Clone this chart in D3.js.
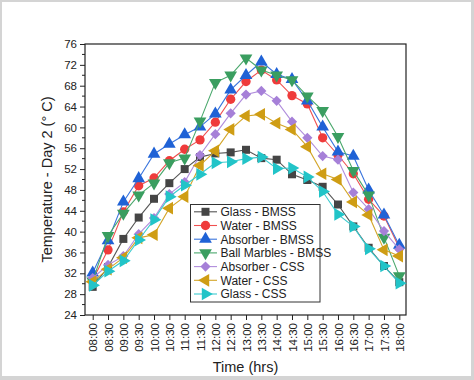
<!DOCTYPE html>
<html><head><meta charset="utf-8">
<script src="https://cdn.jsdelivr.net/npm/d3@7"></script>
<style>html,body{margin:0;padding:0;background:#d4d4d4;}svg{display:block;}</style>
</head><body>
<script>
const times = ["08:00","08:30","09:00","09:30","10:00","10:30","11:00","11:30","12:00","12:30","13:00","13:30","14:00","14:30","15:00","15:30","16:00","16:30","17:00","17:30","18:00"];
const glassBMSS   = [29.4,33.2,38.6,42.7,46.3,49.3,52.0,54.3,55.0,55.2,55.7,54.1,53.8,51.0,49.9,48.6,45.2,41.0,36.9,33.4,30.3];
const waterBMSS   = [30.7,36.5,43.8,48.8,50.3,53.6,55.8,57.6,61.0,65.4,68.8,71.0,69.1,66.1,64.5,58.0,54.7,51.1,46.2,43.0,36.9];
const absorberBMSS= [32.1,38.3,45.7,50.2,54.9,56.8,58.6,60.1,62.6,67.2,70.0,72.6,70.2,69.2,65.1,60.1,55.3,54.5,48.0,43.2,37.4];
const ballBMSS    = [30.5,39.2,43.5,47.0,49.3,53.2,54.1,61.2,68.6,70.0,73.3,71.0,70.0,69.1,66.0,63.2,58.2,51.7,47.0,38.9,31.5];
const absorberCSS = [31.1,33.6,35.3,39.5,42.6,47.2,49.5,54.7,58.7,62.7,66.3,67.0,65.1,61.1,58.0,54.5,53.8,47.5,44.3,40.1,36.6];
const waterCSS    = [30.4,32.8,35.0,38.8,39.4,44.5,46.7,52.7,55.5,59.6,62.2,62.5,60.8,59.6,56.3,51.1,50.0,45.7,43.2,36.5,35.3];
const glassCSS    = [29.7,32.4,34.4,38.4,42.3,46.7,48.9,51.0,53.2,53.4,54.0,54.3,52.1,52.2,50.5,47.7,43.3,41.0,36.7,33.4,30.1];
const seriesNames = ["Glass - BMSS","Water - BMSS","Absorber - BMSS","Ball Marbles - BMSS","Absorber - CSS","Water - CSS","Glass - CSS"];
const yTicks = [24,28,32,36,40,44,48,52,56,60,64,68,72,76];

const seriesData = [glassBMSS, waterBMSS, absorberBMSS, ballBMSS, absorberCSS, waterCSS, glassCSS];
const colors = ["#454545","#ef3b3b","#1f62d6","#3a9e60","#a680d8","#cf9d14","#22c4c8"];
const lineColors = ["#555555","#f05050","#3a75dd","#4aa86c","#b08ddc","#d4a62a","#3ccbcf"];
const shapes = ["square","circle","up","down","diamond","left","right"];

const W=474,H=380;
const svg = d3.select("body").append("svg").attr("width",W).attr("height",H);
svg.append("rect").attr("x",2).attr("y",2).attr("width",W-5).attr("height",H-6).attr("fill","#fff");

const L=85,R=406,T=44,B=315;
const x = d3.scalePoint().domain(times).range([92.7,399.3]);
const y = d3.scaleLinear().domain([24,76]).range([B,T]);

// y axis
const yAxis = d3.axisLeft(y).tickValues(yTicks).tickSize(5).tickPadding(3).tickFormat(d3.format("d"));
const gy = svg.append("g").attr("transform",`translate(${L},0)`).call(yAxis);
gy.select(".domain").remove();
gy.selectAll("text").attr("font-family","Liberation Sans, Arial, sans-serif").attr("font-size",11.5).attr("fill","#222");
gy.selectAll("line").attr("stroke","#222");
// minor ticks
const minor = d3.range(26,76,4);
svg.append("g").selectAll("line").data(minor).join("line")
  .attr("x1",L-3).attr("x2",L).attr("y1",d=>y(d)).attr("y2",d=>y(d)).attr("stroke","#222");

// x axis
const xAxis = d3.axisBottom(x).tickSize(5).tickPadding(3);
const gx = svg.append("g").attr("transform",`translate(0,${B})`).call(xAxis);
gx.select(".domain").remove();
gx.selectAll("line").attr("stroke","#222");
gx.selectAll("text").attr("font-family","Liberation Sans, Arial, sans-serif").attr("font-size",11.5).attr("fill","#222")
  .attr("transform","rotate(-90)").attr("text-anchor","end").attr("dy","0.35em").attr("x",-8).attr("y",0);

// frame
svg.append("rect").attr("x",L).attr("y",T).attr("width",R-L).attr("height",B-T)
  .attr("fill","none").attr("stroke","#222").attr("stroke-width",1.2);

function symPath(shape){
  const map={square:[d3.symbolSquare,64],circle:[d3.symbolCircle,68],up:[d3.symbolTriangle,70],
    down:[d3.symbolTriangle,70],diamond:[d3.symbolSquare,52],left:[d3.symbolTriangle,70],right:[d3.symbolTriangle,70]};
  const [t,s]=map[shape];
  return d3.symbol().type(t).size(s)();
}
const rot={square:0,circle:0,up:0,down:180,diamond:45,left:-90,right:90};

const line = d3.line().x((d,i)=>x(times[i])).y(d=>y(d));
seriesData.forEach((vals,k)=>{
  const g = svg.append("g");
  g.append("path").datum(vals).attr("d",line).attr("fill","none").attr("stroke",lineColors[k]).attr("stroke-width",1.1);
  g.selectAll("path.m").data(vals).join("path").attr("class","m")
    .attr("d",symPath(shapes[k]))
    .attr("transform",(d,i)=>`translate(${x(times[i])},${y(d)}) rotate(${rot[shapes[k]]})`)
    .attr("fill",colors[k]);
});

// legend
const lg = svg.append("g");
lg.append("rect").attr("x",190.5).attr("y",204.5).attr("width",129.5).attr("height",97.5)
  .attr("fill","#fff").attr("stroke","#333").attr("stroke-width",1);
seriesNames.forEach((nm,k)=>{
  const cy = 211.8 + k*13.7;
  lg.append("line").attr("x1",194).attr("x2",217).attr("y1",cy).attr("y2",cy).attr("stroke",lineColors[k]).attr("stroke-width",1.1);
  lg.append("path").attr("d",symPath(shapes[k])).attr("transform",`translate(205.5,${cy}) rotate(${rot[shapes[k]]})`).attr("fill",colors[k]);
  lg.append("text").attr("x",220.5).attr("y",cy).attr("dy","0.36em").text(nm)
    .attr("font-family","Liberation Sans, Arial, sans-serif").attr("font-size",12).attr("fill","#222");
});

// axis titles
svg.append("text").attr("transform",`translate(52,${(T+B)/2}) rotate(-90)`).attr("text-anchor","middle")
  .attr("font-family","Liberation Sans, Arial, sans-serif").attr("font-size",14.5).attr("fill","#222")
  .text("Temperature - Day 2 (° C)");
svg.append("text").attr("x",245.5).attr("y",372).attr("text-anchor","middle")
  .attr("font-family","Liberation Sans, Arial, sans-serif").attr("font-size",14.5).attr("fill","#222")
  .text("Time (hrs)");
</script>
</body></html>
